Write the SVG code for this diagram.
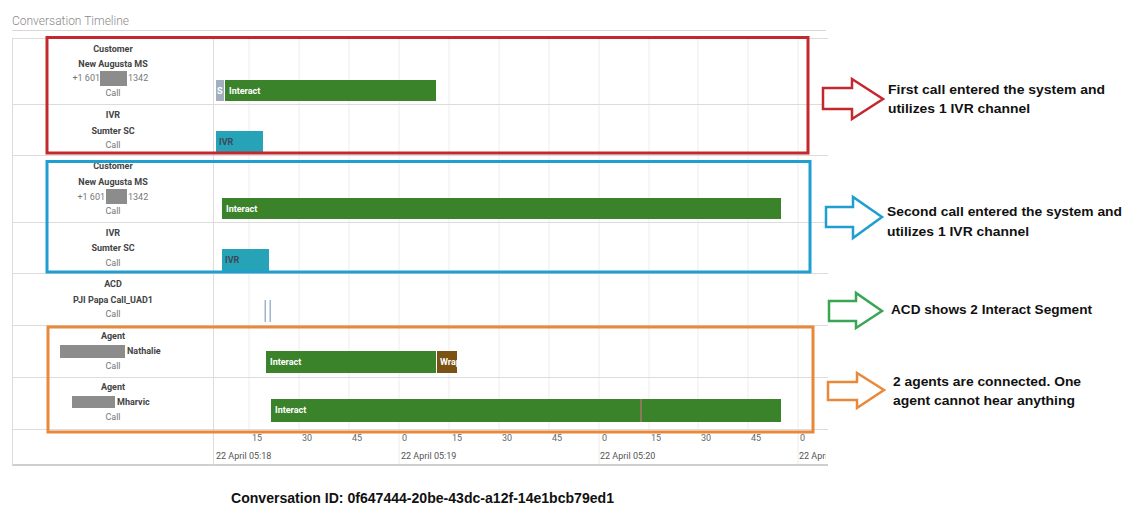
<svg xmlns="http://www.w3.org/2000/svg" width="1145" height="522" viewBox="0 0 1145 522">
<defs>
<style>
.ttl{font-family:Roboto,"Liberation Sans",sans-serif;font-size:12px;fill:#8a8a8a;font-weight:300}
.lb{font-family:Roboto,"Liberation Sans",sans-serif;font-size:9px;font-weight:bold;fill:#444;text-anchor:middle}
.ls{font-family:Roboto,"Liberation Sans",sans-serif;font-size:9px;fill:#777;text-anchor:middle}
.lbs{font-family:Roboto,"Liberation Sans",sans-serif;font-size:9px;font-weight:bold;fill:#444}
.bt{font-family:Roboto,"Liberation Sans",sans-serif;font-size:9px;font-weight:bold;fill:#ffffff}
.btd{font-family:Roboto,"Liberation Sans",sans-serif;font-size:9px;font-weight:bold;fill:#3a4a5a}
.tk{font-family:Roboto,"Liberation Sans",sans-serif;font-size:9px;fill:#666}
.dt{font-family:Roboto,"Liberation Sans",sans-serif;font-size:9px;fill:#555}
.an{font-family:"Liberation Sans",Arial,sans-serif;font-size:13px;font-weight:bold;fill:#111}
.row{stroke:#dcdcdc;stroke-width:1}
.grid{stroke:#ececec;stroke-width:1}
.red{fill:#8c8c8c}
.green{fill:#3a832a}
.teal{fill:#27a3b8}
.box{fill:none;stroke-width:3}
.arr{fill:#fff;stroke-width:2.5;stroke-linejoin:miter}
</style>
<clipPath id="cS"><rect x="216" y="80" width="8" height="21"/></clipPath>
<clipPath id="cW"><rect x="437" y="351" width="20" height="22"/></clipPath>
<clipPath id="cChart"><rect x="0" y="0" width="826" height="522"/></clipPath>
</defs>
<rect width="1145" height="522" fill="#fff"/>
<text class="ttl" x="12" y="25">Conversation Timeline</text>
<line x1="12" y1="30.5" x2="826" y2="30.5" stroke="#d8d8d8"/>

<g id="table">
<g id="grid">
<line class="grid" x1="249" y1="38" x2="249" y2="429"/>
<line class="grid" x1="299" y1="38" x2="299" y2="429"/>
<line class="grid" x1="349" y1="38" x2="349" y2="429"/>
<line class="grid" x1="399" y1="38" x2="399" y2="465"/>
<line class="grid" x1="449" y1="38" x2="449" y2="429"/>
<line class="grid" x1="499" y1="38" x2="499" y2="429"/>
<line class="grid" x1="549" y1="38" x2="549" y2="429"/>
<line class="grid" x1="599" y1="38" x2="599" y2="465"/>
<line class="grid" x1="649" y1="38" x2="649" y2="429"/>
<line class="grid" x1="698" y1="38" x2="698" y2="429"/>
<line class="grid" x1="748" y1="38" x2="748" y2="429"/>
<line class="grid" x1="798" y1="38" x2="798" y2="465"/>
</g>
<line class="row" x1="12" y1="38.5" x2="828" y2="38.5"/>
<line class="row" x1="12" y1="104.5" x2="828" y2="104.5"/>
<line class="row" x1="12" y1="155.5" x2="828" y2="155.5"/>
<line class="row" x1="12" y1="222.5" x2="828" y2="222.5"/>
<line class="row" x1="12" y1="273.5" x2="828" y2="273.5"/>
<line class="row" x1="12" y1="325.5" x2="828" y2="325.5"/>
<line class="row" x1="12" y1="377.5" x2="828" y2="377.5"/>
<line class="row" x1="12" y1="429.5" x2="828" y2="429.5"/>
<line x1="12" y1="465" x2="828" y2="465" stroke="#cfcfcf" stroke-width="2"/>
<line class="row" x1="12.5" y1="38" x2="12.5" y2="465"/>
<line class="row" x1="213.5" y1="38" x2="213.5" y2="465"/>
</g>

<g id="customer1">
<text class="lb" x="113" y="52">Customer</text>
<text class="lb" x="113" y="67">New Augusta MS</text>
<text class="ls" x="100" y="81" style="text-anchor:end">+1 601</text>
<rect class="red" x="100" y="71" width="27" height="15"/>
<text class="ls" x="128" y="81" style="text-anchor:start">1342</text>
<text class="ls" x="113" y="96">Call</text>
<rect x="216" y="80" width="8" height="21" fill="#a3afc0"/>
<text class="bt" x="217" y="94" clip-path="url(#cS)">S</text>
<rect class="green" x="225" y="80" width="211" height="21"/>
<text class="bt" x="229" y="94">Interact</text>
</g>

<g id="ivr1">
<text class="lb" x="113" y="118">IVR</text>
<text class="lb" x="113" y="134">Sumter SC</text>
<text class="ls" x="113" y="148">Call</text>
<rect class="teal" x="216" y="131" width="47" height="22"/>
<text class="btd" x="219" y="145">IVR</text>
</g>

<g id="customer2">
<text class="lb" x="113" y="169">Customer</text>
<text class="lb" x="113" y="185">New Augusta MS</text>
<text class="ls" x="105" y="200" style="text-anchor:end">+1 601</text>
<rect class="red" x="106" y="189" width="21" height="15"/>
<text class="ls" x="128" y="200" style="text-anchor:start">1342</text>
<text class="ls" x="113" y="214">Call</text>
<rect class="green" x="222" y="198" width="559" height="21"/>
<text class="bt" x="226" y="212">Interact</text>
</g>

<g id="ivr2">
<text class="lb" x="113" y="236">IVR</text>
<text class="lb" x="113" y="251">Sumter SC</text>
<text class="ls" x="113" y="266">Call</text>
<rect class="teal" x="222" y="249" width="47" height="22"/>
<text class="btd" x="225" y="263">IVR</text>
</g>

<g id="acd">
<text class="lb" x="113" y="287">ACD</text>
<text class="lb" x="113" y="303">PJI Papa Call_UAD1</text>
<text class="ls" x="113" y="317">Call</text>
<rect x="264.5" y="300" width="1.5" height="22" fill="#9fb4d0"/>
<rect x="269.5" y="300" width="1.5" height="22" fill="#9fb4d0"/>
</g>

<g id="agent1">
<text class="lb" x="113" y="339">Agent</text>
<rect class="red" x="60" y="345" width="65" height="13"/>
<text class="lbs" x="127" y="354">Nathalie</text>
<text class="ls" x="113" y="369">Call</text>
<rect class="green" x="266" y="351" width="170" height="22"/>
<text class="bt" x="270" y="365">Interact</text>
<rect x="437" y="351" width="20" height="22" fill="#7b5214"/>
<text class="bt" x="440" y="365" clip-path="url(#cW)">Wrap</text>
</g>

<g id="agent2">
<text class="lb" x="113" y="390">Agent</text>
<rect class="red" x="72" y="396" width="43" height="12"/>
<text class="lbs" x="117" y="405">Mharvic</text>
<text class="ls" x="113" y="420">Call</text>
<rect class="green" x="271" y="399" width="510" height="23"/>
<rect x="640" y="399" width="2" height="23" fill="#8a7a5a"/>
<text class="bt" x="275" y="413">Interact</text>
</g>

<g id="axis" clip-path="url(#cChart)">
<text class="tk" x="252" y="441">15</text>
<text class="tk" x="302" y="441">30</text>
<text class="tk" x="352" y="441">45</text>
<text class="tk" x="402" y="441">0</text>
<text class="tk" x="452" y="441">15</text>
<text class="tk" x="502" y="441">30</text>
<text class="tk" x="552" y="441">45</text>
<text class="tk" x="602" y="441">0</text>
<text class="tk" x="651" y="441">15</text>
<text class="tk" x="701" y="441">30</text>
<text class="tk" x="751" y="441">45</text>
<text class="tk" x="800" y="441">0</text>
<text class="dt" x="216" y="459">22 April 05:18</text>
<text class="dt" x="401" y="459">22 April 05:19</text>
<text class="dt" x="600" y="459">22 April 05:20</text>
<text class="dt" x="799" y="459">22 April 05:21</text>
</g>

<g id="highlights">
<rect class="box" x="47" y="37.5" width="761" height="115.5" stroke="#c4282f"/>
<rect class="box" x="47" y="161.5" width="763" height="110.5" stroke="#1f9fd0"/>
<rect class="box" x="48" y="327" width="765" height="105" stroke="#e8883a"/>
</g>

<g id="connectors">
<path class="arr" d="M823,88 H852 V79 L883,99 L852,119 V109 H823 Z" stroke="#c4282f"/>
<path class="arr" d="M826,207 H853 V197 L882,217 L853,238 V227 H826 Z" stroke="#1f9fd0"/>
<path class="arr" d="M829,301 H856 V293 L882,311 L856,328 V321 H829 Z" stroke="#3aa655"/>
<path class="arr" d="M828,382 H857 V373 L884,390 L857,408 V400 H828 Z" stroke="#e8883a"/>
</g>

<g id="note1">
<text class="an" x="888" y="94" textLength="217" lengthAdjust="spacingAndGlyphs">First call entered the system and</text>
<text class="an" x="888" y="113" textLength="142" lengthAdjust="spacingAndGlyphs">utilizes 1 IVR channel</text>
</g>
<g id="note2">
<text class="an" x="887" y="216" textLength="235" lengthAdjust="spacingAndGlyphs">Second call entered the system and</text>
<text class="an" x="887" y="236" textLength="142" lengthAdjust="spacingAndGlyphs">utilizes 1 IVR channel</text>
</g>
<g id="note3">
<text class="an" x="891" y="314" textLength="201" lengthAdjust="spacingAndGlyphs">ACD shows 2 Interact Segment</text>
</g>
<g id="note4">
<text class="an" x="893" y="386" textLength="188" lengthAdjust="spacingAndGlyphs">2 agents are connected. One</text>
<text class="an" x="893" y="405" textLength="182" lengthAdjust="spacingAndGlyphs">agent cannot hear anything</text>
</g>
<g id="conversation-id">
<text class="an" x="231" y="503" style="font-size:14px" textLength="383" lengthAdjust="spacingAndGlyphs">Conversation ID: 0f647444-20be-43dc-a12f-14e1bcb79ed1</text>
</g>
</svg>
